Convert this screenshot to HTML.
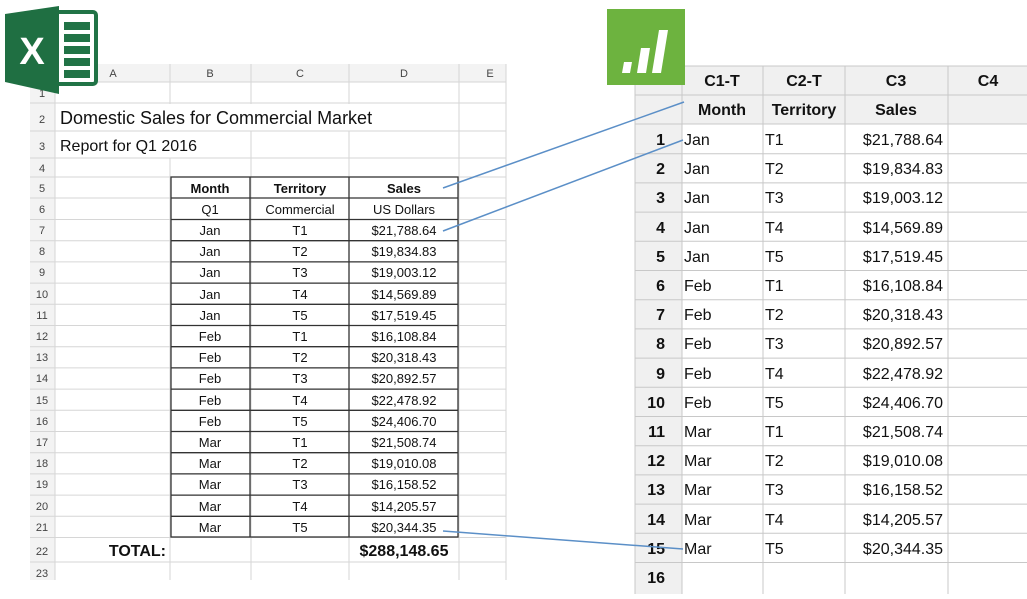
<!DOCTYPE html>
<html><head><meta charset="utf-8"><style>
html,body{margin:0;padding:0;background:#fff;width:1027px;height:599px;overflow:hidden}
svg{display:block;font-family:"Liberation Sans",sans-serif}
</style></head><body>
<svg width="1027" height="599" viewBox="0 0 1027 599" xmlns="http://www.w3.org/2000/svg">
<!-- EXCEL -->
<rect x="30" y="64" width="476" height="18" fill="#f3f3f3"/>
<rect x="30" y="82" width="25" height="498" fill="#f3f3f3"/>
<g stroke="#d6d6d6" stroke-width="1">
<line x1="55" y1="64" x2="55" y2="580"/><line x1="170" y1="64" x2="170" y2="580"/>
<line x1="251" y1="64" x2="251" y2="580"/><line x1="349" y1="64" x2="349" y2="580"/>
<line x1="459" y1="64" x2="459" y2="580"/><line x1="506" y1="64" x2="506" y2="580"/>
<line x1="30" y1="82" x2="506" y2="82"/><line x1="30" y1="103" x2="506" y2="103"/>
<line x1="30" y1="131" x2="506" y2="131"/><line x1="30" y1="158" x2="506" y2="158"/>
<line x1="30" y1="177" x2="506" y2="177"/><line x1="30" y1="198" x2="506" y2="198"/>
<line x1="30" y1="219.5" x2="506" y2="219.5"/><line x1="30" y1="240.7" x2="506" y2="240.7"/>
<line x1="30" y1="261.9" x2="506" y2="261.9"/><line x1="30" y1="283.1" x2="506" y2="283.1"/>
<line x1="30" y1="304.3" x2="506" y2="304.3"/><line x1="30" y1="325.5" x2="506" y2="325.5"/>
<line x1="30" y1="346.7" x2="506" y2="346.7"/><line x1="30" y1="367.9" x2="506" y2="367.9"/>
<line x1="30" y1="389.1" x2="506" y2="389.1"/><line x1="30" y1="410.3" x2="506" y2="410.3"/>
<line x1="30" y1="431.5" x2="506" y2="431.5"/><line x1="30" y1="452.7" x2="506" y2="452.7"/>
<line x1="30" y1="473.9" x2="506" y2="473.9"/><line x1="30" y1="495.1" x2="506" y2="495.1"/>
<line x1="30" y1="516.3" x2="506" y2="516.3"/><line x1="30" y1="537.5" x2="506" y2="537.5"/>
<line x1="30" y1="562" x2="506" y2="562"/>
</g>
<rect x="56" y="104" width="402" height="26.5" fill="#fff"/>
<rect x="56" y="131.5" width="194" height="26" fill="#fff"/>
<g font-size="11" fill="#444" text-anchor="middle">
<text x="113" y="77">A</text><text x="210" y="77">B</text><text x="300" y="77">C</text><text x="404" y="77">D</text><text x="490" y="77">E</text>
</g>
<g font-size="11" fill="#444" text-anchor="middle">
<text x="42" y="97">1</text>
<text x="42" y="123">2</text><text x="42" y="150">3</text><text x="42" y="172">4</text><text x="42" y="192">5</text><text x="42" y="213">6</text>
<text x="42" y="234">7</text><text x="42" y="255">8</text><text x="42" y="276">9</text><text x="42" y="298">10</text><text x="42" y="319">11</text>
<text x="42" y="340">12</text><text x="42" y="361">13</text><text x="42" y="382">14</text><text x="42" y="404">15</text><text x="42" y="425">16</text>
<text x="42" y="446">17</text><text x="42" y="467">18</text><text x="42" y="488">19</text><text x="42" y="510">20</text><text x="42" y="531">21</text>
<text x="42" y="555">22</text><text x="42" y="577">23</text>
</g>
<text x="60" y="124" font-size="18" fill="#111">Domestic Sales for Commercial Market</text>
<text x="60" y="151" font-size="16" fill="#111">Report for Q1 2016</text>
<rect x="171" y="177" width="287" height="360" fill="none" stroke="#333" stroke-width="1.3"/>
<g stroke="#333" stroke-width="1.3">
<line x1="250" y1="177" x2="250" y2="537.5"/><line x1="349" y1="177" x2="349" y2="537.5"/>
<line x1="171" y1="198" x2="458" y2="198"/><line x1="171" y1="219.5" x2="458" y2="219.5"/>
<line x1="171" y1="240.7" x2="458" y2="240.7"/><line x1="171" y1="261.9" x2="458" y2="261.9"/>
<line x1="171" y1="283.1" x2="458" y2="283.1"/><line x1="171" y1="304.3" x2="458" y2="304.3"/>
<line x1="171" y1="325.5" x2="458" y2="325.5"/><line x1="171" y1="346.7" x2="458" y2="346.7"/>
<line x1="171" y1="367.9" x2="458" y2="367.9"/><line x1="171" y1="389.1" x2="458" y2="389.1"/>
<line x1="171" y1="410.3" x2="458" y2="410.3"/><line x1="171" y1="431.5" x2="458" y2="431.5"/>
<line x1="171" y1="452.7" x2="458" y2="452.7"/><line x1="171" y1="473.9" x2="458" y2="473.9"/>
<line x1="171" y1="495.1" x2="458" y2="495.1"/><line x1="171" y1="516.3" x2="458" y2="516.3"/>
</g>
<g font-size="13" fill="#111" text-anchor="middle">
<text x="210" y="193" font-weight="bold">Month</text><text x="300" y="193" font-weight="bold">Territory</text><text x="404" y="193" font-weight="bold">Sales</text>
<text x="210" y="214">Q1</text><text x="300" y="214">Commercial</text><text x="404" y="214">US Dollars</text>
<text x="210" y="235">Jan</text><text x="300" y="235">T1</text><text x="404" y="235">$21,788.64</text>
<text x="210" y="256">Jan</text><text x="300" y="256">T2</text><text x="404" y="256">$19,834.83</text>
<text x="210" y="277">Jan</text><text x="300" y="277">T3</text><text x="404" y="277">$19,003.12</text>
<text x="210" y="299">Jan</text><text x="300" y="299">T4</text><text x="404" y="299">$14,569.89</text>
<text x="210" y="320">Jan</text><text x="300" y="320">T5</text><text x="404" y="320">$17,519.45</text>
<text x="210" y="341">Feb</text><text x="300" y="341">T1</text><text x="404" y="341">$16,108.84</text>
<text x="210" y="362">Feb</text><text x="300" y="362">T2</text><text x="404" y="362">$20,318.43</text>
<text x="210" y="383">Feb</text><text x="300" y="383">T3</text><text x="404" y="383">$20,892.57</text>
<text x="210" y="405">Feb</text><text x="300" y="405">T4</text><text x="404" y="405">$22,478.92</text>
<text x="210" y="426">Feb</text><text x="300" y="426">T5</text><text x="404" y="426">$24,406.70</text>
<text x="210" y="447">Mar</text><text x="300" y="447">T1</text><text x="404" y="447">$21,508.74</text>
<text x="210" y="468">Mar</text><text x="300" y="468">T2</text><text x="404" y="468">$19,010.08</text>
<text x="210" y="489">Mar</text><text x="300" y="489">T3</text><text x="404" y="489">$16,158.52</text>
<text x="210" y="511">Mar</text><text x="300" y="511">T4</text><text x="404" y="511">$14,205.57</text>
<text x="210" y="532">Mar</text><text x="300" y="532">T5</text><text x="404" y="532">$20,344.35</text>
</g>
<text x="166" y="556" font-size="16" font-weight="bold" text-anchor="end" fill="#111">TOTAL:</text>
<text x="404" y="556" font-size="16" font-weight="bold" text-anchor="middle" fill="#111">$288,148.65</text>
<!-- Excel logo -->
<rect x="30" y="12" width="66" height="72" rx="3" fill="#fff" stroke="#217346" stroke-width="4"/>
<g fill="#217346">
<rect x="64" y="22" width="26" height="8"/><rect x="64" y="34" width="26" height="8"/><rect x="64" y="46" width="26" height="8"/><rect x="64" y="58" width="26" height="8"/><rect x="64" y="70" width="26" height="8"/>
</g>
<polygon points="5,14 59,6 59,94 5,82" fill="#1f6f42"/>
<text x="32" y="64" font-size="38" font-weight="bold" fill="#fff" text-anchor="middle">X</text>
<!-- MINITAB -->
<rect x="635" y="66" width="392" height="58" fill="#f0f0f0"/>
<rect x="635" y="124" width="47" height="470" fill="#f0f0f0"/>
<g stroke="#c8c8c8" stroke-width="1">
<line x1="635" y1="66" x2="1027" y2="66"/><line x1="635" y1="66" x2="635" y2="594"/>
<line x1="682" y1="66" x2="682" y2="594"/><line x1="763" y1="66" x2="763" y2="594"/>
<line x1="845" y1="66" x2="845" y2="594"/><line x1="948" y1="66" x2="948" y2="594"/>
<line x1="635" y1="95" x2="1027" y2="95"/><line x1="635" y1="124" x2="1027" y2="124"/>
<line x1="635" y1="153.7" x2="1027" y2="153.7"/><line x1="635" y1="182.9" x2="1027" y2="182.9"/>
<line x1="635" y1="212.1" x2="1027" y2="212.1"/><line x1="635" y1="241.3" x2="1027" y2="241.3"/>
<line x1="635" y1="270.5" x2="1027" y2="270.5"/><line x1="635" y1="299.7" x2="1027" y2="299.7"/>
<line x1="635" y1="328.9" x2="1027" y2="328.9"/><line x1="635" y1="358.1" x2="1027" y2="358.1"/>
<line x1="635" y1="387.3" x2="1027" y2="387.3"/><line x1="635" y1="416.5" x2="1027" y2="416.5"/>
<line x1="635" y1="445.7" x2="1027" y2="445.7"/><line x1="635" y1="474.9" x2="1027" y2="474.9"/>
<line x1="635" y1="504.1" x2="1027" y2="504.1"/><line x1="635" y1="533.3" x2="1027" y2="533.3"/>
<line x1="635" y1="562.5" x2="1027" y2="562.5"/>
</g>
<g font-size="16" font-weight="bold" fill="#111" text-anchor="middle">
<text x="722" y="86">C1-T</text><text x="804" y="86">C2-T</text><text x="896" y="86">C3</text><text x="988" y="86">C4</text>
<text x="722" y="115">Month</text><text x="804" y="115">Territory</text><text x="896" y="115">Sales</text>
</g>
<g font-size="16" font-weight="bold" fill="#111" text-anchor="end">
<text x="665" y="145">1</text><text x="665" y="174">2</text><text x="665" y="203">3</text><text x="665" y="233">4</text><text x="665" y="262">5</text>
<text x="665" y="291">6</text><text x="665" y="320">7</text><text x="665" y="349">8</text><text x="665" y="379">9</text><text x="665" y="408">10</text>
<text x="665" y="437">11</text><text x="665" y="466">12</text><text x="665" y="495">13</text><text x="665" y="525">14</text><text x="665" y="554">15</text><text x="665" y="583">16</text>
</g>
<g font-size="16" fill="#111">
<text x="684" y="145">Jan</text><text x="684" y="174">Jan</text><text x="684" y="203">Jan</text><text x="684" y="233">Jan</text><text x="684" y="262">Jan</text>
<text x="684" y="291">Feb</text><text x="684" y="320">Feb</text><text x="684" y="349">Feb</text><text x="684" y="379">Feb</text><text x="684" y="408">Feb</text>
<text x="684" y="437">Mar</text><text x="684" y="466">Mar</text><text x="684" y="495">Mar</text><text x="684" y="525">Mar</text><text x="684" y="554">Mar</text>
<text x="765" y="145">T1</text><text x="765" y="174">T2</text><text x="765" y="203">T3</text><text x="765" y="233">T4</text><text x="765" y="262">T5</text>
<text x="765" y="291">T1</text><text x="765" y="320">T2</text><text x="765" y="349">T3</text><text x="765" y="379">T4</text><text x="765" y="408">T5</text>
<text x="765" y="437">T1</text><text x="765" y="466">T2</text><text x="765" y="495">T3</text><text x="765" y="525">T4</text><text x="765" y="554">T5</text>
</g>
<g font-size="16" fill="#111" text-anchor="end">
<text x="943" y="145">$21,788.64</text><text x="943" y="174">$19,834.83</text><text x="943" y="203">$19,003.12</text><text x="943" y="233">$14,569.89</text><text x="943" y="262">$17,519.45</text>
<text x="943" y="291">$16,108.84</text><text x="943" y="320">$20,318.43</text><text x="943" y="349">$20,892.57</text><text x="943" y="379">$22,478.92</text><text x="943" y="408">$24,406.70</text>
<text x="943" y="437">$21,508.74</text><text x="943" y="466">$19,010.08</text><text x="943" y="495">$16,158.52</text><text x="943" y="525">$14,205.57</text><text x="943" y="554">$20,344.35</text>
</g>
<!-- Minitab logo -->
<rect x="607" y="9" width="78" height="76" fill="#6db33f"/>
<g fill="#fff">
<polygon points="624,62 632,62 630,73 622,73"/>
<polygon points="641,48 650,48 646,73 637,73"/>
<polygon points="659,30 668,30 661,73 652,73"/>
</g>
<!-- connectors -->
<g stroke="#5b8fc7" stroke-width="1.5" fill="none">
<line x1="443" y1="188" x2="684" y2="102"/>
<line x1="443" y1="231" x2="683" y2="140"/>
<line x1="443" y1="531" x2="683" y2="549"/>
</g>
</svg>
</body></html>
